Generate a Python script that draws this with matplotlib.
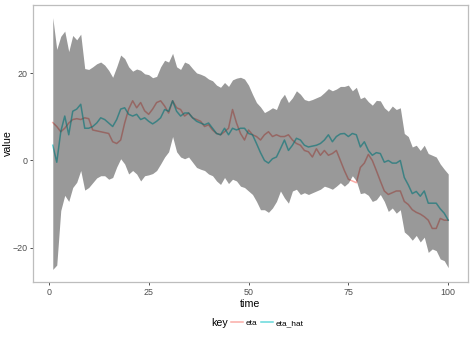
import matplotlib
matplotlib.use("Agg")
import matplotlib.pyplot as plt
import numpy as np

plt.rcParams["font.family"] = ["Liberation Sans", "DejaVu Sans"]

time = np.arange(1, 101)

eta = [8.7, 7.8, 6.6, 7.4, 8.6, 9.4, 9.6, 9.4, 9.8, 9.6,
       7.0, 6.8, 6.6, 6.4, 6.2, 4.3, 3.9, 4.7, 8.6, 11.8,
       13.7, 12.1, 13.3, 11.4, 10.6, 11.8, 13.3, 13.7, 12.5, 10.9,
       13.7, 12.1, 11.7, 10.2, 10.9, 9.8, 9.4, 9.0, 7.8, 8.2,
       7.0, 6.2, 5.9, 6.6, 7.4, 11.7, 8.6, 6.2, 4.7, 7.0,
       5.9, 5.5, 4.7, 5.9, 6.6, 5.5, 5.9, 5.5, 5.5, 5.9,
       4.7, 3.9, 3.5, 2.3, 2.0, 0.8, 2.7, 1.2, 2.3, 1.2,
       1.6, 2.3, 0.0, -2.3, -4.3, -4.7, -5.1, -1.6, -0.6, 1.4,
       0.0, -2.3, -4.7, -7.0, -7.8, -7.4, -7.0, -7.0, -9.4, -10.1,
       -11.3, -11.9, -12.3, -12.9, -13.7, -15.6, -15.6, -13.3, -13.7, -13.7]

eta_hat = [3.5, -0.4, 6.6, 10.2, 5.9, 11.3, 11.8, 12.9, 7.4, 7.4,
           7.8, 8.6, 9.8, 9.4, 8.6, 7.8, 9.4, 11.8, 12.1, 10.6,
           10.2, 10.6, 9.4, 9.8, 9.0, 8.4, 9.0, 9.8, 11.7, 11.3,
           13.7, 11.3, 10.2, 10.9, 10.9, 9.8, 9.0, 8.6, 8.2, 8.6,
           7.4, 6.2, 5.9, 7.4, 5.9, 7.4, 7.0, 7.4, 7.4, 6.2,
           5.9, 3.9, 1.8, 0.0, -0.6, 0.4, 0.8, 2.7, 4.7, 2.3,
           3.5, 5.1, 4.7, 3.5, 3.1, 3.3, 3.5, 3.9, 4.7, 5.9,
           4.3, 5.5, 6.1, 6.2, 5.5, 6.2, 5.9, 3.1, 4.3, 2.3,
           1.2, 1.8, 1.6, -0.4, 0.0, -0.6, -0.6, 0.0, -3.9, -5.6,
           -7.6, -7.1, -8.2, -7.0, -9.8, -9.8, -9.8, -11.1, -12.1, -13.7]

upper = [32.8, 25.5, 28.5, 29.7, 25.0, 28.7, 27.7, 29.0, 21.1, 20.9,
         21.5, 22.2, 22.6, 21.9, 20.7, 19.1, 21.5, 24.2, 23.4, 21.5,
         20.5, 21.0, 20.7, 19.9, 19.7, 19.0, 19.3, 21.5, 23.0, 22.6,
         24.6, 21.5, 20.9, 22.6, 22.2, 21.1, 20.1, 19.8, 19.4, 18.7,
         18.3, 17.3, 16.8, 17.9, 17.0, 18.5, 18.9, 19.1, 18.7, 17.3,
         15.2, 13.3, 12.3, 11.0, 11.5, 12.1, 11.7, 14.0, 15.2, 13.3,
         14.4, 16.0, 15.2, 14.0, 13.7, 14.0, 14.4, 14.8, 15.6, 16.5,
         16.0, 16.4, 17.0, 17.0, 17.3, 16.0, 16.8, 14.2, 14.6, 13.5,
         12.7, 13.8, 13.7, 12.1, 11.3, 12.5, 11.7, 12.1, 6.2, 5.5,
         3.1, 3.5, 2.3, 3.5, 1.6, 1.2, 0.8, -0.8, -2.0, -3.1]

lower = [-25.0, -24.0, -11.5, -8.0, -9.4, -6.2, -5.0, -2.3, -6.8, -6.2,
         -5.1, -4.0, -3.5, -3.5, -4.3, -3.9, -1.5, 0.4, -0.8, -3.1,
         -2.3, -3.1, -4.7, -3.5, -3.3, -3.0, -2.3, -0.8, 0.8, 2.0,
         5.5, 2.0, 0.8, 0.4, 0.8, -0.4, -1.6, -2.0, -2.3, -3.1,
         -3.5, -4.7, -5.5, -3.9, -5.3, -4.3, -4.7, -5.9, -6.2, -7.0,
         -7.8, -9.4, -11.3, -11.3, -11.9, -10.9, -9.4, -7.0, -8.6, -9.8,
         -7.0, -6.6, -7.8, -7.4, -7.8, -7.4, -7.0, -6.6, -5.9, -6.2,
         -6.6, -5.9, -5.1, -5.9, -5.1, -3.5, -4.7, -7.6, -7.4, -8.0,
         -9.4, -9.0, -7.8, -9.4, -11.7, -10.9, -12.1, -11.3, -16.4, -17.2,
         -18.3, -17.2, -18.7, -17.6, -21.1, -20.3, -20.7, -22.6, -23.0, -24.6]

W, H = 474, 343
fig = plt.figure(figsize=(W / 100, H / 100), dpi=100)
ax = fig.add_axes([33 / W, 1 - 282 / H, 435 / W, 277 / H])

# lines underneath, the interval band laid over them
l1, = ax.plot(time, eta, color="#F8766D", lw=1.1, alpha=0.6, label="eta", zorder=2)
l2, = ax.plot(time, eta_hat, color="#00BFC4", lw=1.1, alpha=0.6, label="eta_hat", zorder=2)
ax.fill_between(time, lower, upper, color="black", alpha=0.4, lw=0, zorder=3)

# ggplot-style 5% expansion
xr = time.max() - time.min()
ax.set_xlim(time.min() - 0.05 * xr, time.max() + 0.05 * xr)
ymin, ymax = min(lower), max(upper)
yr = ymax - ymin
ax.set_ylim(ymin - 0.05 * yr, ymax + 0.05 * yr)

ax.set_xticks([0, 25, 50, 75, 100])
ax.set_yticks([-20, 0, 20])
ax.tick_params(length=2.5, width=0.6, color="#333333", labelsize=6.4,
               labelcolor="#4D4D4D", pad=1.5)
for s in ax.spines.values():
    s.set_color("#BDBDBD")
    s.set_linewidth(0.9)

ax.set_xlabel("time", fontsize=7.7, labelpad=2)
ax.set_ylabel("value", fontsize=7.7)
ax.yaxis.set_label_coords(-20 / 435, 0.5)

fig.text(228 / W, 1 - 323 / H, "key", ha="right", va="center", fontsize=7.7)
fig.legend(handles=[l1, l2], loc="center left", bbox_to_anchor=(231 / W, 1 - 323 / H),
           ncol=2, frameon=False, fontsize=6, handlelength=1.4, handletextpad=0.3,
           columnspacing=0.5, borderpad=0, borderaxespad=0)

fig.savefig("out.png", dpi=100)
